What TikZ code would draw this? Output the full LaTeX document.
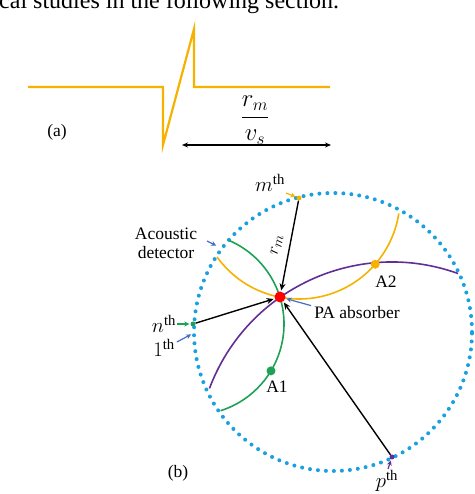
\documentclass[tikz,border=0pt]{standalone}
\usepackage{fontspec}
\setmainfont{Liberation Serif}
\usepackage{amsmath}
\usetikzlibrary{arrows.meta,positioning}

\definecolor{wave}{RGB}{245,178,0}
\definecolor{ring}{RGB}{25,160,225}
\definecolor{grn}{RGB}{30,160,85}
\definecolor{purp}{RGB}{100,45,150}
\definecolor{pointer}{RGB}{70,110,195}

\begin{document}
\begin{tikzpicture}[x=1pt,y=1pt,
    lbl/.style={font=\fontsize{17.5}{19}\selectfont, inner sep=1pt},
    mlbl/.style={font=\fontsize{21}{23}\selectfont, inner sep=1pt},
    det/.style={circle, inner sep=0pt, minimum size=5pt},
    spot/.style={circle, inner sep=0pt, minimum size=9pt},
    ray/.style={-{Stealth[length=7pt,width=6pt]}, line width=1.4pt, shorten >=1pt},
    pnt/.style={-{Stealth[length=5pt,width=5pt]}, line width=1.2pt, pointer, shorten >=1pt},
    arcline/.style={line width=1.6pt}]
    \useasboundingbox (0,0) rectangle (474,494);

    %% clipped line of the page text
    \node[anchor=base west, inner sep=0pt, font=\fontsize{24}{26}\selectfont]
        (txt) at (-1,485) {cal studies in the following section.};

    %% (a) the pulse
    \draw[wave, line width=2.2pt, line join=miter]
        (28,407) -- (163,407) -- (163,349) -- (194,465) -- (194,407) -- (330,407);
    \node[lbl] (la) at (57,362) {(a)};
    \node[font=\fontsize{23}{25}\selectfont] (frac) at (255,374) {$\dfrac{r_m}{v_s}$};
    \coordinate (tl) at (182,349);
    \coordinate (tr) at (331,349);
    \draw[{Stealth[length=6pt,width=5pt]}-{Stealth[length=6pt,width=5pt]}, line width=1.1pt] (tl) -- (tr);

    %% (b) the ring of detectors
    \draw[ring, line width=4pt, line cap=round, dash pattern=on 0pt off 8pt]
        (333,162) circle (139);

    \node[det, fill=wave] (dm) at (299,296) {};
    \node[det, fill=grn] (dn) at (193,170) {};
    \node[det, fill=purp] (dp) at (392,37) {};
    \coordinate (d1) at (192,160);
    \coordinate (ad) at (217,248);

    %% arcs of equal delay
    \draw[arcline, grn] (dn.center) ++(66.7:91) arc[start angle=66.7, end angle=-72.4, radius=91];
    \draw[arcline, wave] (dm.center) ++(215.7:101) arc[start angle=215.7, end angle=351.2, radius=101];
    \draw[arcline, purp] (dp.center) ++(70.2:195) arc[start angle=70.2, end angle=159.4, radius=195];

    \path (dn.center) ++(-31:91) node[spot, fill=grn] (a1) {};
    \path (dm.center) ++(319:101) node[spot, fill=wave] (a2) {};
    \node[lbl] (la1) at (277,107) {A1};
    \node[lbl] (la2) at (386,212) {A2};

    \node[circle, fill=red, inner sep=0pt, minimum size=11pt] (pa) at (280,197) {};

    \draw[ray] (dm) -- (pa);
    \draw[ray] (dn) -- (pa);
    \draw[ray] (dp) -- (pa);
    \node[inner sep=0pt, font=\fontsize{19}{21}\selectfont, rotate=79] (rm) at (277,249) {$r_m$};

    %% labels and pointers
    \node[mlbl] (lm) at (270,311) {$m^{\mathrm{th}}$};
    \draw[pnt, wave] (lm.south east) -- (dm);
    \node[lbl, align=center] (lad) at (166,251) {Acoustic\\detector};
    \draw[pnt] (207,253) -- (ad);
    \node[lbl] (lpa) at (357,181) {PA absorber};
    \draw[pnt] (lpa.north west) ++(-2,0) -- (pa);
    \node[mlbl] (ln) at (164,170) {$n^{\mathrm{th}}$};
    \draw[pnt, grn] (ln.east) -- (dn);
    \node[mlbl] (l1) at (164,146) {$1^{\mathrm{th}}$};
    \draw[pnt] (l1.north east) ++(1,-4) -- (d1);
    \node[mlbl] (lp) at (387,13) {$p^{\mathrm{th}}$};
    \draw[pnt, purp] (lp.north) ++(1,0) -- (dp);
    \node[lbl] (lb) at (178,21) {(b)};
\end{tikzpicture}
\end{document}
